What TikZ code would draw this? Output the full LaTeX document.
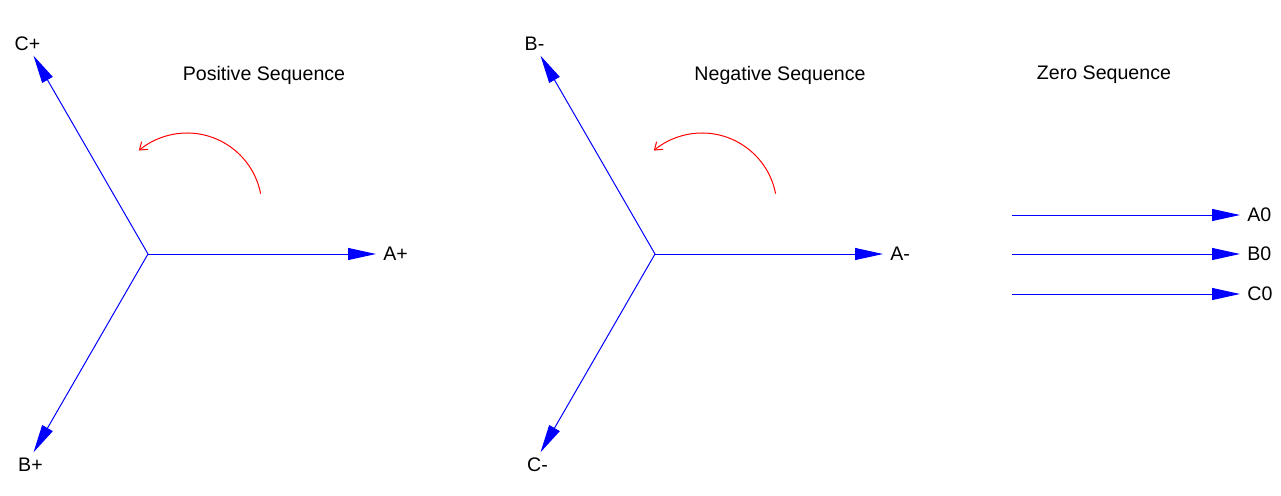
\documentclass[tikz,border=0pt]{standalone}
\usepackage{fontspec}
\setmainfont{Liberation Sans}
\usetikzlibrary{arrows.meta}
\tikzstyle{phasor}=[blue, line width=0.5pt, -{Triangle[length=14pt,width=6pt]}]
\tikzstyle{rotation}=[red, line width=0.5pt, -{Straight Barb[length=3.5pt,width=5pt]}]
\tikzstyle{lbl}=[inner sep=0pt, font=\fontsize{9.8}{11}\selectfont]

\begin{document}
\begin{tikzpicture}[x=0.5pt, y=0.5pt]
        \useasboundingbox (0,0) rectangle (1281,495);
        % star diagrams: origin x, arc centre x, title x, title, right / upper / lower phase
        \foreach \ox/\ax/\tx/\title/\pa/\pup/\pdown [count=\i] in {148/187/264/Positive Sequence/A+/C+/B+, 655/702/780/Negative Sequence/A-/B-/C-} {
             \coordinate (o\i) at (\ox,241);
             \path (o\i) ++(0:228) coordinate (a\i);
             \path (o\i) ++(120:229) coordinate (u\i);
             \path (o\i) ++(240:229) coordinate (d\i);
             \node[lbl, anchor=west] (la\i) at ([xshift=3.5pt]a\i) {\pa};
             \node[lbl] (lu\i) at ([shift={(-6,12)}]u\i) {\pup};
             \node[lbl] (ld\i) at ([shift={(-3,-12)}]d\i) {\pdown};
             \node[lbl] (t\i) at (\tx,420) {\title};
             \draw[phasor] (o\i) -- (a\i);
             \draw[phasor] (o\i) -- (u\i);
             \draw[phasor] (o\i) -- (d\i);
             \draw[rotation] (\ax,287) ++(11:75) arc[start angle=11, end angle=130, radius=75];
        }
        % zero sequence
        \node[lbl] (t3) at (1104,420) {Zero Sequence};
        \foreach \y/\p in {280/A0, 241/B0, 201/C0} {
             \coordinate (z\p) at (1012,\y); \coordinate (e\p) at (1240,\y);
             \node[lbl, anchor=west] (l\p) at ([xshift=3.5pt]e\p) {\p};
             \draw[phasor] (z\p) -- (e\p);
        }
    \end{tikzpicture}
\end{document}
